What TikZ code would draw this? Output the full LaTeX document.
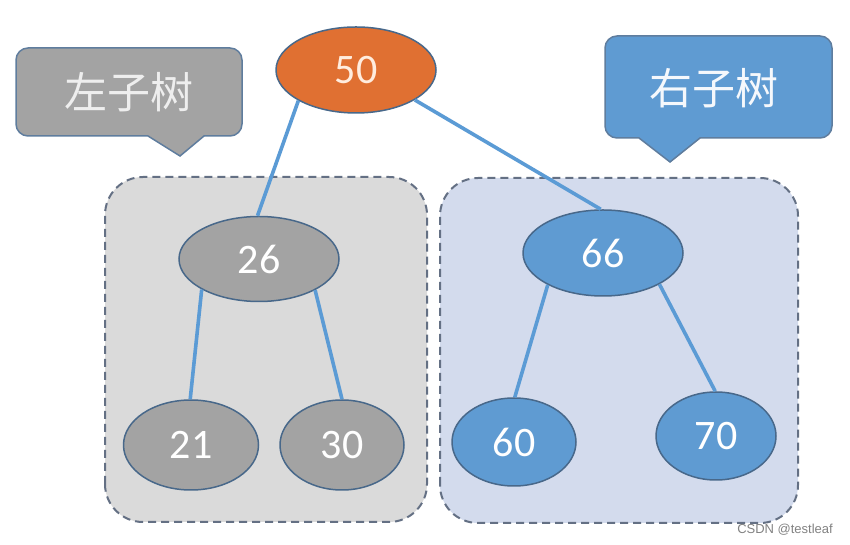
\documentclass[tikz,border=0pt]{standalone}
\usepackage{fontspec}
\setmainfont{Carlito}
\newfontfamily\cjk{Noto Sans CJK SC}
\newfontfamily\wm{Liberation Sans}
\usetikzlibrary{shapes.geometric}
\definecolor{edgeblue}{RGB}{91,155,213}
\definecolor{nodeline}{RGB}{72,104,138}
\definecolor{orangefill}{RGB}{224,112,50}
\definecolor{grayfill}{RGB}{163,163,163}
\definecolor{bluefill}{RGB}{95,155,210}
\definecolor{lboxfill}{RGB}{218,218,218}
\definecolor{rboxfill}{RGB}{211,219,237}
\definecolor{dashline}{RGB}{100,112,132}
\definecolor{calloutline}{RGB}{95,125,158}
\definecolor{peach}{RGB}{255,236,222}
\tikzset{
  treenode/.style={ellipse, draw=nodeline, line width=1.5pt, inner sep=0pt,
    text=white, font=\fontsize{42}{50}\selectfont},
  graynode/.style={treenode, fill=grayfill},
  bluenode/.style={treenode, fill=bluefill},
  edge/.style={draw=edgeblue, line width=3.6pt},
  groupbox/.style={draw=dashline, line width=2pt, dash pattern=on 8pt off 5pt, rounded corners=38pt},
  callout/.style={draw=calloutline, line width=1.5pt},
  callouttext/.style={font=\cjk\fontsize{43}{50}\selectfont, inner sep=0pt}
}
\begin{document}
\begin{tikzpicture}[x=1pt,y=1pt]
\useasboundingbox (0,0) rectangle (850,545);
\fill[white] (0,0) rectangle (850,545);
% group boxes
\draw[groupbox, fill=lboxfill] (105,23) rectangle (427,368);
\draw[groupbox, fill=rboxfill] (440,22) rectangle (798,367);
% callouts
\draw[callout, fill=grayfill] (28,497) -- (230,497) arc[start angle=90,end angle=0,radius=12]
  -- (242,421) arc[start angle=0,end angle=-90,radius=12]
  -- (204,409) -- (180,389) -- (148,409) -- (28,409)
  arc[start angle=270,end angle=180,radius=12] -- (16,485)
  arc[start angle=180,end angle=90,radius=12] -- cycle;
\draw[callout, fill=bluefill] (617,509) -- (820,509) arc[start angle=90,end angle=0,radius=12]
  -- (832,419) arc[start angle=0,end angle=-90,radius=12]
  -- (700,407) -- (670,383) -- (639,407) -- (617,407)
  arc[start angle=270,end angle=180,radius=12] -- (605,497)
  arc[start angle=180,end angle=90,radius=12] -- cycle;
\node[callouttext, text={rgb,255:red,238;green,238;blue,238}] (lt) at (129,453) {左子树};
\node[callouttext, text={rgb,255:red,245;green,248;blue,252}] (rt) at (714,457) {右子树};
% tree nodes
\node[treenode, fill=orangefill, text=peach, minimum width=160pt, minimum height=86pt] (n50) at (356,475) {50};
\node[graynode, minimum width=160pt, minimum height=85pt] (n26) at (259,286) {26};
\node[graynode, minimum width=135pt, minimum height=90pt] (n21) at (191,100) {21};
\node[graynode, minimum width=124pt, minimum height=90pt] (n30) at (342,100) {30};
\node[bluenode, minimum width=160pt, minimum height=86pt] (n66) at (603,292) {66};
\node[bluenode, minimum width=124pt, minimum height=88pt] (n60) at (514,103) {60};
\node[bluenode, minimum width=120pt, minimum height=88pt] (n70) at (716,109) {70};
% edges
\draw[edge] (n50.208) -- (n26.92);
\draw[edge] (n50.-27) -- (n66.93);
\draw[edge] (n26.208) -- (n21.91);
\draw[edge] (n26.-29) -- (n30.90);
\draw[edge] (n66.210) -- (n60.89);
\draw[edge] (n66.-29) -- (n70.91);
% watermark
\node[font=\wm\fontsize{13}{15}\selectfont, text={rgb,255:red,130;green,130;blue,130}, anchor=east, inner sep=0pt] (wmk) at (833,15) {CSDN @testleaf};
\end{tikzpicture}
\end{document}
